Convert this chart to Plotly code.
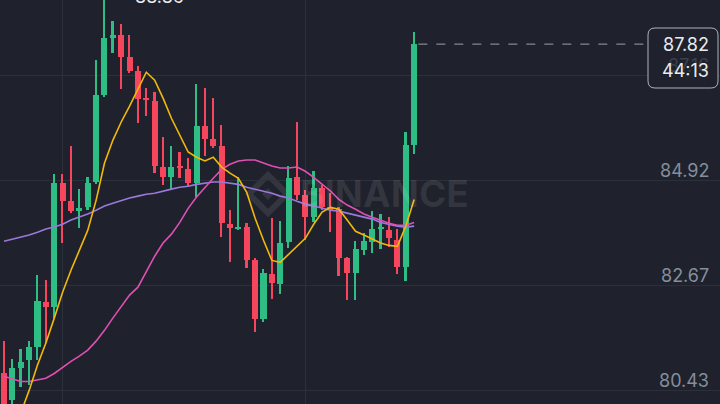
import plotly.graph_objects as go

# candle data (oldest -> newest)
opens = [80.81, 80.23, 80.91, 81.08, 81.36, 82.32, 82.21, 84.86, 84.47, 84.28,
         84.34, 84.88, 86.73, 87.95, 88.01, 87.54, 87.24, 86.65, 86.60, 85.20,
         84.98, 85.22, 85.15, 84.86, 86.07, 85.79, 85.64, 83.98, 83.88, 83.92,
         83.21, 81.96, 82.92, 82.70, 83.60, 84.98, 84.60, 84.13, 84.75, 84.34,
         84.30, 83.26, 82.94, 83.43, 83.60, 83.88, 83.85, 83.64, 83.07, 85.67]
highs = [81.49, 81.10, 81.32, 81.49, 82.89, 82.79, 85.05, 85.05, 85.64, 84.73,
         84.98, 87.48, 88.86, 88.31, 88.25, 88.01, 87.35, 86.88, 86.80, 85.84,
         85.64, 85.52, 85.39, 86.97, 86.88, 86.67, 86.09, 84.28, 84.98, 84.00,
         83.26, 83.02, 84.11, 84.05, 85.22, 86.16, 84.71, 85.11, 84.81, 84.64,
         84.34, 83.28, 83.62, 83.79, 84.26, 84.20, 84.13, 83.88, 85.94, 88.08]
lows = [79.80, 80.02, 80.51, 80.55, 81.08, 81.45, 81.98, 83.58, 84.22, 83.90,
        84.28, 84.83, 86.69, 87.63, 86.86, 87.20, 86.14, 86.28, 85.07, 84.81,
        84.73, 84.96, 84.77, 84.56, 85.43, 85.60, 83.70, 83.17, 83.85, 83.04,
        81.68, 81.89, 82.38, 82.49, 83.47, 84.49, 83.64, 84.02, 84.28, 83.81,
        82.87, 82.36, 82.36, 83.32, 83.36, 83.45, 83.49, 82.92, 82.77, 85.47]
closes = [80.02, 80.91, 81.04, 81.36, 82.34, 82.21, 84.86, 84.47, 84.26, 84.32,
          84.86, 86.73, 87.95, 88.01, 87.54, 87.24, 86.65, 86.63, 85.22, 84.98,
          85.20, 85.20, 84.86, 86.07, 85.79, 85.64, 84.00, 83.90, 83.92, 83.21,
          81.96, 82.94, 82.72, 83.58, 84.96, 84.60, 84.13, 84.75, 84.34, 84.28,
          83.26, 82.94, 83.45, 83.62, 83.88, 83.92, 83.68, 83.07, 85.67, 87.82]

# moving averages as drawn on the chart
ma7 = [78.99, 79.48, 79.93, 80.44, 80.98, 81.45, 81.98, 82.53, 83.00, 83.43,
       83.85, 84.49, 85.28, 85.77, 86.16, 86.50, 86.86, 87.22, 87.05, 86.67,
       86.24, 85.88, 85.52, 85.41, 85.33, 85.41, 85.20, 85.07, 84.96, 84.66,
       84.11, 83.64, 83.21, 83.17, 83.34, 83.49, 83.68, 83.98, 84.24, 84.34,
       84.30, 84.07, 83.83, 83.75, 83.66, 83.58, 83.53, 83.51, 83.94, 84.51]
ma25 = [80.74, 80.68, 80.63, 80.63, 80.66, 80.70, 80.80, 80.93, 81.06, 81.17,
        81.30, 81.49, 81.72, 81.98, 82.23, 82.47, 82.64, 82.98, 83.30, 83.58,
        83.77, 84.02, 84.32, 84.56, 84.77, 84.96, 85.15, 85.26, 85.33, 85.35,
        85.35, 85.28, 85.22, 85.18, 85.18, 85.20, 85.11, 84.98, 84.83, 84.69,
        84.51, 84.39, 84.30, 84.20, 84.13, 84.07, 84.00, 83.96, 83.96, 84.02]
ma99 = [83.62, 83.66, 83.70, 83.75, 83.81, 83.88, 83.92, 83.98, 84.07, 84.13,
        84.20, 84.28, 84.37, 84.43, 84.49, 84.54, 84.58, 84.62, 84.64, 84.69,
        84.73, 84.77, 84.79, 84.83, 84.86, 84.88, 84.88, 84.86, 84.83, 84.77,
        84.73, 84.69, 84.64, 84.58, 84.54, 84.47, 84.41, 84.37, 84.32, 84.28,
        84.26, 84.22, 84.17, 84.13, 84.09, 84.02, 83.98, 83.94, 83.92, 83.94]

price_ticks = [80.43, 82.67, 84.92, 87.16]
time_grid = [7, 36]
last_price = 87.82
countdown = "44:13"
high_idx = 12

BG = "#1f222c"
GRID = "#2c303a"
UP = "#2ebd85"
DOWN = "#f6465d"
MUTED = "#848e9c"
W, H = 720, 404

idx = list(range(len(opens)))
colors = [UP if c >= o else DOWN for o, c in zip(opens, closes)]
body_base = [min(o, c) for o, c in zip(opens, closes)]
body_h = [max(abs(c - o), 0.025) for o, c in zip(opens, closes)]

fig = go.Figure()

# wicks
fig.add_trace(go.Bar(
    x=idx, y=[h - l for h, l in zip(highs, lows)], base=lows,
    width=0.2, marker=dict(color=colors, line=dict(width=0)),
    hoverinfo="skip", showlegend=False,
))
# bodies
fig.add_trace(go.Bar(
    x=idx, y=body_h, base=body_base,
    width=0.72, marker=dict(color=colors, line=dict(width=0)),
    hoverinfo="skip", showlegend=False,
))

for vals, col in [(ma99, "#9a78dc"), (ma25, "#e04fb4"), (ma7, "#f0b90b")]:
    fig.add_trace(go.Scatter(
        x=idx, y=vals, mode="lines",
        line=dict(color=col, width=1.6),
        hoverinfo="skip", showlegend=False,
    ))


def px_x(p):
    return p / W


def px_y(p):
    return 1 - p / H


def rounded_rect(x0, y0, x1, y1, r):
    # pixel box -> paper path with rounded corners
    pts = [
        f"M {px_x(x0 + r)},{px_y(y0)}",
        f"L {px_x(x1 - r)},{px_y(y0)}",
        f"Q {px_x(x1)},{px_y(y0)} {px_x(x1)},{px_y(y0 + r)}",
        f"L {px_x(x1)},{px_y(y1 - r)}",
        f"Q {px_x(x1)},{px_y(y1)} {px_x(x1 - r)},{px_y(y1)}",
        f"L {px_x(x0 + r)},{px_y(y1)}",
        f"Q {px_x(x0)},{px_y(y1)} {px_x(x0)},{px_y(y1 - r)}",
        f"L {px_x(x0)},{px_y(y0 + r)}",
        f"Q {px_x(x0)},{px_y(y0)} {px_x(x0 + r)},{px_y(y0)}",
        "Z",
    ]
    return " ".join(pts)


# watermark logo (rough diamond)
cx, cy, s = 268, 194, 19
diamond = (f"M {px_x(cx)},{px_y(cy - s)} L {px_x(cx + s)},{px_y(cy)} "
           f"L {px_x(cx)},{px_y(cy + s)} L {px_x(cx - s)},{px_y(cy)} Z")
inner = (f"M {px_x(cx)},{px_y(cy - 6)} L {px_x(cx + 6)},{px_y(cy)} "
         f"L {px_x(cx)},{px_y(cy + 6)} L {px_x(cx - 6)},{px_y(cy)} Z")
fig.add_shape(type="path", path=diamond, xref="paper", yref="paper",
              line=dict(color="rgba(255,255,255,0.09)", width=6), layer="below")
fig.add_shape(type="path", path=inner, xref="paper", yref="paper",
              fillcolor="rgba(255,255,255,0.09)", line=dict(width=0), layer="below")
fig.add_annotation(
    text="<b>BINANCE</b>", xref="paper", yref="paper", x=px_x(298), y=px_y(193),
    xanchor="left", yanchor="middle", showarrow=False,
    font=dict(family="Inter, Roboto, sans-serif", size=37, color="rgba(255,255,255,0.09)"),
)

# last price dashed line + price box
n = len(closes)
fig.add_shape(type="line", xref="x", yref="y", x0=n - 0.5, x1=76.9,
              y0=last_price, y1=last_price,
              line=dict(color="#9aa1ab", width=1, dash="dash"))
fig.add_shape(type="path", path=rounded_rect(648, 28, 718, 88, 7),
              xref="paper", yref="paper", fillcolor=BG,
              line=dict(color="#aab1ba", width=1))

lab_font = dict(family="Inter, Roboto, sans-serif", size=18)
for t in price_ticks:
    faded = t == 87.16
    fig.add_annotation(
        text=f"{t:.2f}", xref="paper", yref="y", x=px_x(711), y=t,
        xanchor="right", yanchor="middle", yshift=10, showarrow=False,
        font=dict(**lab_font, color="#3b3f49" if faded else MUTED),
    )

fig.add_annotation(
    text=f"{last_price:.2f}", xref="paper", yref="y", x=px_x(711), y=last_price,
    xanchor="right", yanchor="middle", showarrow=False,
    font=dict(**lab_font, color="#eaecef"),
)
fig.add_annotation(
    text=countdown, xref="paper", yref="y", x=px_x(711), y=last_price,
    xanchor="right", yanchor="middle", yshift=-26, showarrow=False,
    font=dict(**lab_font, color="#eaecef"),
)
# session high marker (mostly off the top)
fig.add_annotation(
    text=f"{highs[high_idx]:.2f}", xref="x", yref="paper", x=high_idx, y=1,
    xanchor="left", yanchor="middle", xshift=29, yshift=4, showarrow=False,
    font=dict(**lab_font, color="#eaecef"),
)

fig.update_layout(
    width=W, height=H,
    margin=dict(l=0, r=0, t=0, b=0),
    paper_bgcolor=BG, plot_bgcolor=BG,
    barmode="overlay", bargap=0,
    showlegend=False,
    xaxis=dict(range=[-0.48, 85.54], tickvals=time_grid, showticklabels=False,
               showgrid=True, gridcolor=GRID, gridwidth=1, zeroline=False,
               showline=False, ticks=""),
    yaxis=dict(range=[80.15, 88.76], tickvals=price_ticks, showticklabels=False,
               showgrid=True, gridcolor=GRID, gridwidth=1, zeroline=False,
               showline=False, ticks=""),
)

fig.write_html(
    "out.html",
    config={"displayModeBar": False},
    post_script="document.body.style.margin='0';document.body.style.background='%s';" % BG,
)
